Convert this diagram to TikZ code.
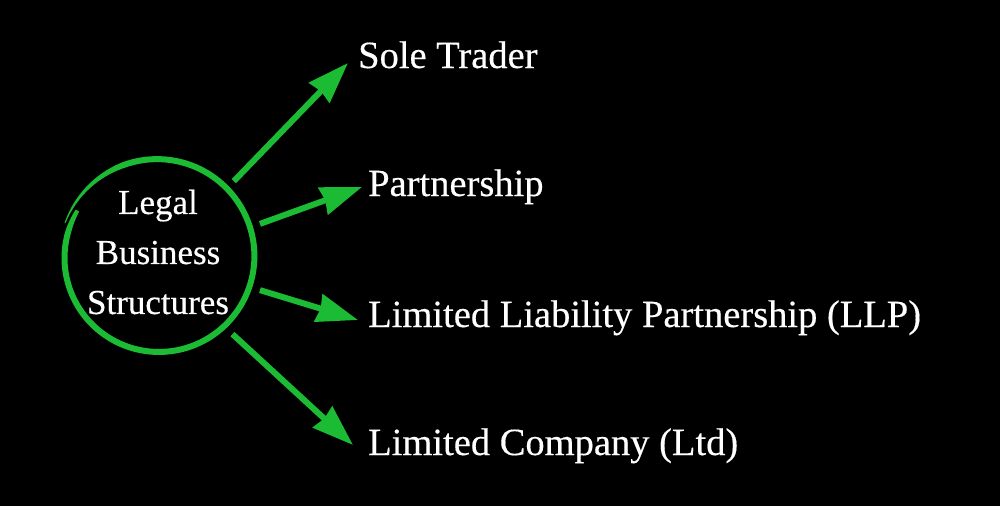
\documentclass[tikz,border=0pt]{standalone}
\usepackage{fontspec}
\setmainfont{Liberation Serif}
\newfontfamily\heavyserif[FakeBold=0.35]{Liberation Serif}
\usetikzlibrary{arrows.meta}
\definecolor{brushgreen}{RGB}{28,187,52}
\begin{document}
\begin{tikzpicture}[x=1pt,y=-1pt,
  declare function={rr(\t)=93+6*(\t-150)/370; ww(\t)=6-5*max(0,(\t-470)/50)-2*max(0,(165-\t)/15);},
  arrowline/.style={draw=brushgreen, line width=6pt, -{Stealth[length=41pt,width=28pt,inset=2pt]}},
  itemtext/.style={text=white, font=\heavyserif\fontsize{38.5}{46}\selectfont, anchor=base west, inner sep=0pt},
  titletext/.style={text=white, align=center, font=\heavyserif\fontsize{35}{50}\selectfont, inner sep=0pt}
  ]
\fill[black] (0,0) rectangle (1000,506);
\useasboundingbox (0,0) rectangle (1000,506);
% brush circle
\fill[brushgreen] plot[domain=150:520, samples=220] ({158+(rr(\x)+ww(\x)/2)*cos(\x)}, {257-(rr(\x)+ww(\x)/2)*sin(\x)})
  -- plot[domain=520:150, samples=220] ({158+(rr(\x)-ww(\x)/2)*cos(\x)}, {257-(rr(\x)-ww(\x)/2)*sin(\x)}) -- cycle;
\node[circle, minimum size=214pt, inner sep=0pt, draw=none] (hub) at (158,257) {};
\node[titletext] (title) at (158,252) {Legal\\Business\\Structures};
% labels
\node[itemtext] (sole) at (358,68) {Sole Trader};
\node[itemtext] (part) at (368,196) {Partnership};
\node[itemtext] (llp) at (368,327) {Limited Liability Partnership (LLP)};
\node[itemtext] (ltd) at (368,455) {Limited Company (Ltd)};
% arrow tips
\coordinate (t1) at (348,63);
\coordinate (t2) at (362,187);
\coordinate (t3) at (358,320);
\coordinate (t4) at (353,445);
\draw[arrowline] (hub.45.8) -- (t1);
\draw[arrowline] (hub.18.8) -- (t2);
\draw[arrowline] (hub.-18.6) -- (t3);
\draw[arrowline] (hub.-46.8) -- (t4);
\end{tikzpicture}
\end{document}
